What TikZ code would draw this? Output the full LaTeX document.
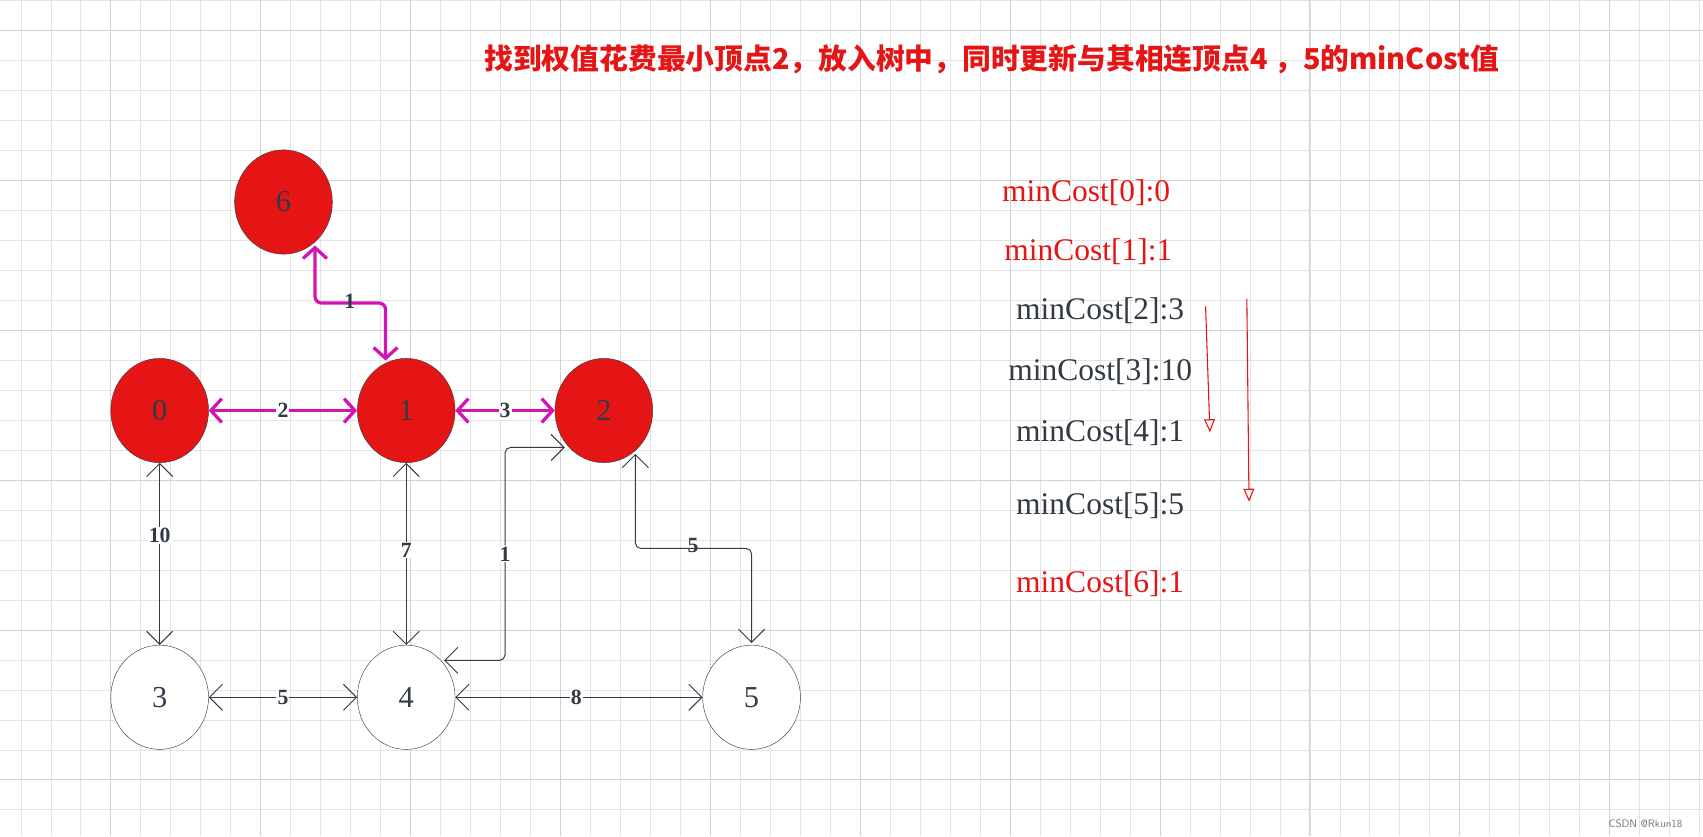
\documentclass[tikz,border=0pt]{standalone}
\usepackage{fontspec}
\setmainfont{Liberation Serif}
\newfontfamily\cjk{Noto Sans CJK SC}
\usetikzlibrary{arrows.meta,shapes.geometric}
\definecolor{mred}{HTML}{E61515}
\definecolor{mag}{HTML}{D214B4}
\definecolor{dk}{HTML}{333A45}
\begin{document}
\begin{tikzpicture}[x=1pt,y=-1pt,
  vtx/.style={draw=dk,ellipse,minimum width=90pt,minimum height=96pt,inner sep=0pt,font=\fontsize{28}{30}\selectfont,text=dk},
  rv/.style={vtx,fill=mred},
  wv/.style={vtx,fill=white},
  arr/.style={draw=dk,line width=0.9pt,{Straight Barb[length=12pt,width=24pt]}-{Straight Barb[length=12pt,width=24pt]}},
  marr/.style={draw=mag,line width=3pt,{Straight Barb[length=10pt,width=22pt]}-{Straight Barb[length=10pt,width=22pt]}},
  lab/.style={fill=white,inner sep=1pt,font=\bfseries\fontsize{20}{22}\selectfont,text=dk},
  mc/.style={font=\fontsize{29}{31}\selectfont,text=dk},
  rarr/.style={draw=mred,line width=1pt,-{Triangle[open,length=12pt,width=10pt]}}]
\useasboundingbox (0,0) rectangle (1568,770);
\fill[white] (0,0) rectangle (1568,770);
\foreach \i in {0,...,57} {\draw[black!11,line width=0.6pt] (19.2+27.6*\i,0) -- (19.2+27.6*\i,770);}
\foreach \i in {0,...,28} {\draw[black!11,line width=0.6pt] (0,0.4+27.6*\i) -- (1568,0.4+27.6*\i);}
\foreach \i in {0,...,11} {\draw[black!18,line width=0.7pt] (102+138*\i,0) -- (102+138*\i,770);}
\foreach \i in {0,...,5} {\draw[black!18,line width=0.7pt] (0,28+138*\i) -- (1568,28+138*\i);}

\node[font=\cjk\bfseries\fontsize{26.5}{28}\selectfont,text=mred] (title) at (913,55) {找到权值花费最小顶点2，放入树中，同时更新与其相连顶点4 ，5的minCost值};

\node[rv] (n6) at (261,186) {6};
\node[rv] (n0) at (147,378) {0};
\node[rv] (n1) at (374,378) {1};
\node[rv] (n2) at (556,378) {2};
\node[wv] (n3) at (147,642) {3};
\node[wv] (n4) at (374,642) {4};
\node[wv] (n5) at (692,642) {5};

\coordinate (a6) at (290,226);
\coordinate (a1) at (355,332);
\draw[marr,rounded corners=6pt] (a6) |- (322,279) -| (a1);
\node[lab,fill=none] at (322,277) {1};
\draw[marr] (n0) -- node[lab]{2} (n1);
\draw[marr] (n1) -- node[lab]{3} (n2);
\draw[arr] (n0) -- node[lab,pos=0.4]{10} (n3);
\draw[arr] (n1) -- node[lab,pos=0.48]{7} (n4);
\draw[arr] (n3) -- node[lab]{5} (n4);
\draw[arr] (n4) -- node[lab,pos=0.49]{8} (n5);
\coordinate (b4) at (409,608);
\coordinate (b2) at (520,412);
\draw[arr,rounded corners=5pt] (b4) -| (465,412) node[lab,pos=0.75]{1} -- (b2);
\coordinate (c2) at (585,418);
\coordinate (c5) at (692,592);
\draw[arr,rounded corners=5pt] (c2) |- (638,505) -| (c5);
\node[lab,fill=none] at (638,502) {5};

\node[mc,text=mred] (m0) at (1000,177) {minCost[0]:0};
\node[mc,text=mred] (m1) at (1002,232) {minCost[1]:1};
\node[mc] (m2) at (1013,286) {minCost[2]:3};
\node[mc] (m3) at (1013,342) {minCost[3]:10};
\node[mc] (m4) at (1013,398) {minCost[4]:1};
\node[mc] (m5) at (1013,466) {minCost[5]:5};
\node[mc,text=mred] (m6) at (1013,537) {minCost[6]:1};

\coordinate (r1s) at (1110,282); \coordinate (r1e) at (1114,398);
\coordinate (r2s) at (1148,275); \coordinate (r2e) at (1150,462);
\draw[rarr] (r1s) -- (r1e);
\draw[rarr] (r2s) -- (r2e);

\node[font=\sffamily\fontsize{10}{11}\selectfont,text=black!55] (wm) at (1515,758) {CSDN @Rkun18};
\end{tikzpicture}
\end{document}
